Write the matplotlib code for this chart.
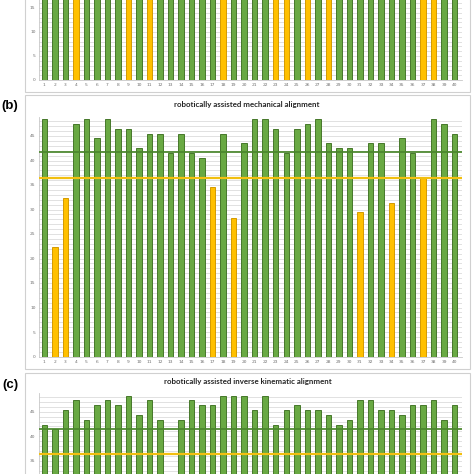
import matplotlib
matplotlib.use('Agg')
import matplotlib.pyplot as plt
from matplotlib.patches import Rectangle

# datos: numero de caso 1..40, valor por caso, y si es outlier (amarillo)
casos = list(range(1, 41))

# panel (a) - solo se ve la parte de abajo, alturas estimadas
valores_a = [46, 44, 47, 34, 45, 47, 44, 46, 33, 45, 35, 46, 44, 47, 45, 43, 46, 32, 44, 47,
             45, 46, 35, 33, 46, 34, 45, 31, 47, 44, 46, 45, 43, 46, 44, 45, 34, 35, 46, 44]
outlier_a = [4, 9, 11, 18, 23, 24, 26, 28, 37, 38]
media_a = [41.5, 36.5]

# panel (b) robotically assisted mechanical alignment
valores_b = [48.5, 22.3, 32.4, 47.5, 48.5, 44.5, 48.5, 46.5, 46.5, 42.5,
             45.5, 45.5, 41.5, 45.5, 41.5, 40.5, 34.5, 45.5, 28.3, 43.5,
             48.5, 48.5, 46.5, 41.5, 46.5, 47.5, 48.5, 43.5, 42.5, 42.5,
             29.4, 43.5, 43.5, 31.4, 44.5, 41.5, 36.5, 48.5, 47.5, 45.5]
outlier_b = [2, 3, 17, 19, 31, 34, 37]
media_b = [41.7, 36.4]

# panel (c) robotically assisted inverse kinematic alignment
valores_c = [42.2, 41.4, 45.3, 47.3, 43.3, 46.3, 47.3, 46.3, 48.3, 44.3,
             47.3, 43.3, 30.0, 43.3, 47.3, 46.3, 46.3, 48.3, 48.3, 48.3,
             45.3, 48.3, 42.2, 45.3, 46.3, 45.3, 45.3, 44.3, 42.2, 43.3,
             47.3, 47.3, 45.3, 45.3, 44.3, 46.3, 46.3, 47.3, 43.3, 46.3]
outlier_c = [13]
media_c = [41.5, 36.4]

titulo_b = 'robotically assisted mechanical alignment'
titulo_c = 'robotically assisted inverse kinematic alignment'

VERDE = '#69a943'
VERDE_BORDE = '#46782a'
AMARILLO = '#ffc000'
AMARILLO_BORDE = '#d49a00'

W = 474.0
fig = plt.figure(figsize=(4.74, 4.74), dpi=100)


def caja(x0, x1, y0, y1):
    # marco gris del grafico (coordenadas en pixeles, y hacia abajo)
    r = Rectangle((x0 / W, 1 - y1 / W), (x1 - x0) / W, (y1 - y0) / W,
                  transform=fig.transFigure, facecolor='white', edgecolor='#d0d0d0',
                  linewidth=0.8, zorder=-5)
    fig.patches.append(r)


def panel(y_cero, escala, valores, outliers, medias, yticks, con_xlabels):
    ymax = 48.8
    x0, x1 = 39, 462
    arriba = y_cero - ymax * escala
    ax = fig.add_axes([x0 / W, 1 - y_cero / W, (x1 - x0) / W, (y_cero - arriba) / W])
    colores = [AMARILLO if c in outliers else VERDE for c in casos]
    bordes = [AMARILLO_BORDE if c in outliers else VERDE_BORDE for c in casos]
    ax.bar(casos, valores, width=0.52, color=colores, edgecolor=bordes, linewidth=0.7, zorder=3)
    ax.axhline(medias[0], color='#4a862c', linewidth=1.25, zorder=4)
    ax.axhline(medias[1], color='#f2bf10', linewidth=1.6, zorder=4)
    ax.set_xlim(0.5, 40.7)
    ax.set_ylim(0, ymax)
    # lineas de fondo cada 1 unidad
    for v in range(1, 49):
        ax.axhline(v, color='#d4d4d4', linewidth=0.5, zorder=1)
    # solo las marcas que caen dentro de la imagen
    ax.set_yticks(yticks)
    if con_xlabels:
        ax.set_xticks(casos)
    else:
        ax.set_xticks([])
    ax.tick_params(length=0, labelsize=3.2, labelcolor='#707070', pad=2.5)
    for s in ['top', 'right']:
        ax.spines[s].set_visible(False)
    for s in ['left', 'bottom']:
        ax.spines[s].set_color('#c8c8c8')
        ax.spines[s].set_linewidth(0.6)
    ax.patch.set_alpha(0)
    return ax


# marcos de cada grafico
caja(25, 470, -200, 91.5)
caja(25, 470, 94.5, 369)
caja(25, 470, 372.5, 700)

panel(80, 4.8, valores_a, outlier_a, media_a, [0, 5, 10, 15], True)
panel(356.5, 4.9, valores_b, outlier_b, media_b, list(range(0, 50, 5)), True)
panel(632.2, 4.9, valores_c, outlier_c, media_c, [35, 40, 45], False)

fig.text(247 / W, 1 - 104 / W, titulo_b, ha='center', va='center', fontsize=5.7,
         fontweight='bold', family='Lato', color='#262626')
fig.text(248 / W, 1 - 381.7 / W, titulo_c, ha='center', va='center', fontsize=5.7,
         fontweight='bold', family='Lato', color='#262626')

fig.text(10 / W, 1 - 106.5 / W, '(b)', ha='center', va='center', fontsize=9.5,
         fontweight='bold', family='Liberation Sans')
fig.text(10 / W, 1 - 385 / W, '(c)', ha='center', va='center', fontsize=9.5,
         fontweight='bold', family='Liberation Sans')

fig.savefig('out.png', dpi=100)
